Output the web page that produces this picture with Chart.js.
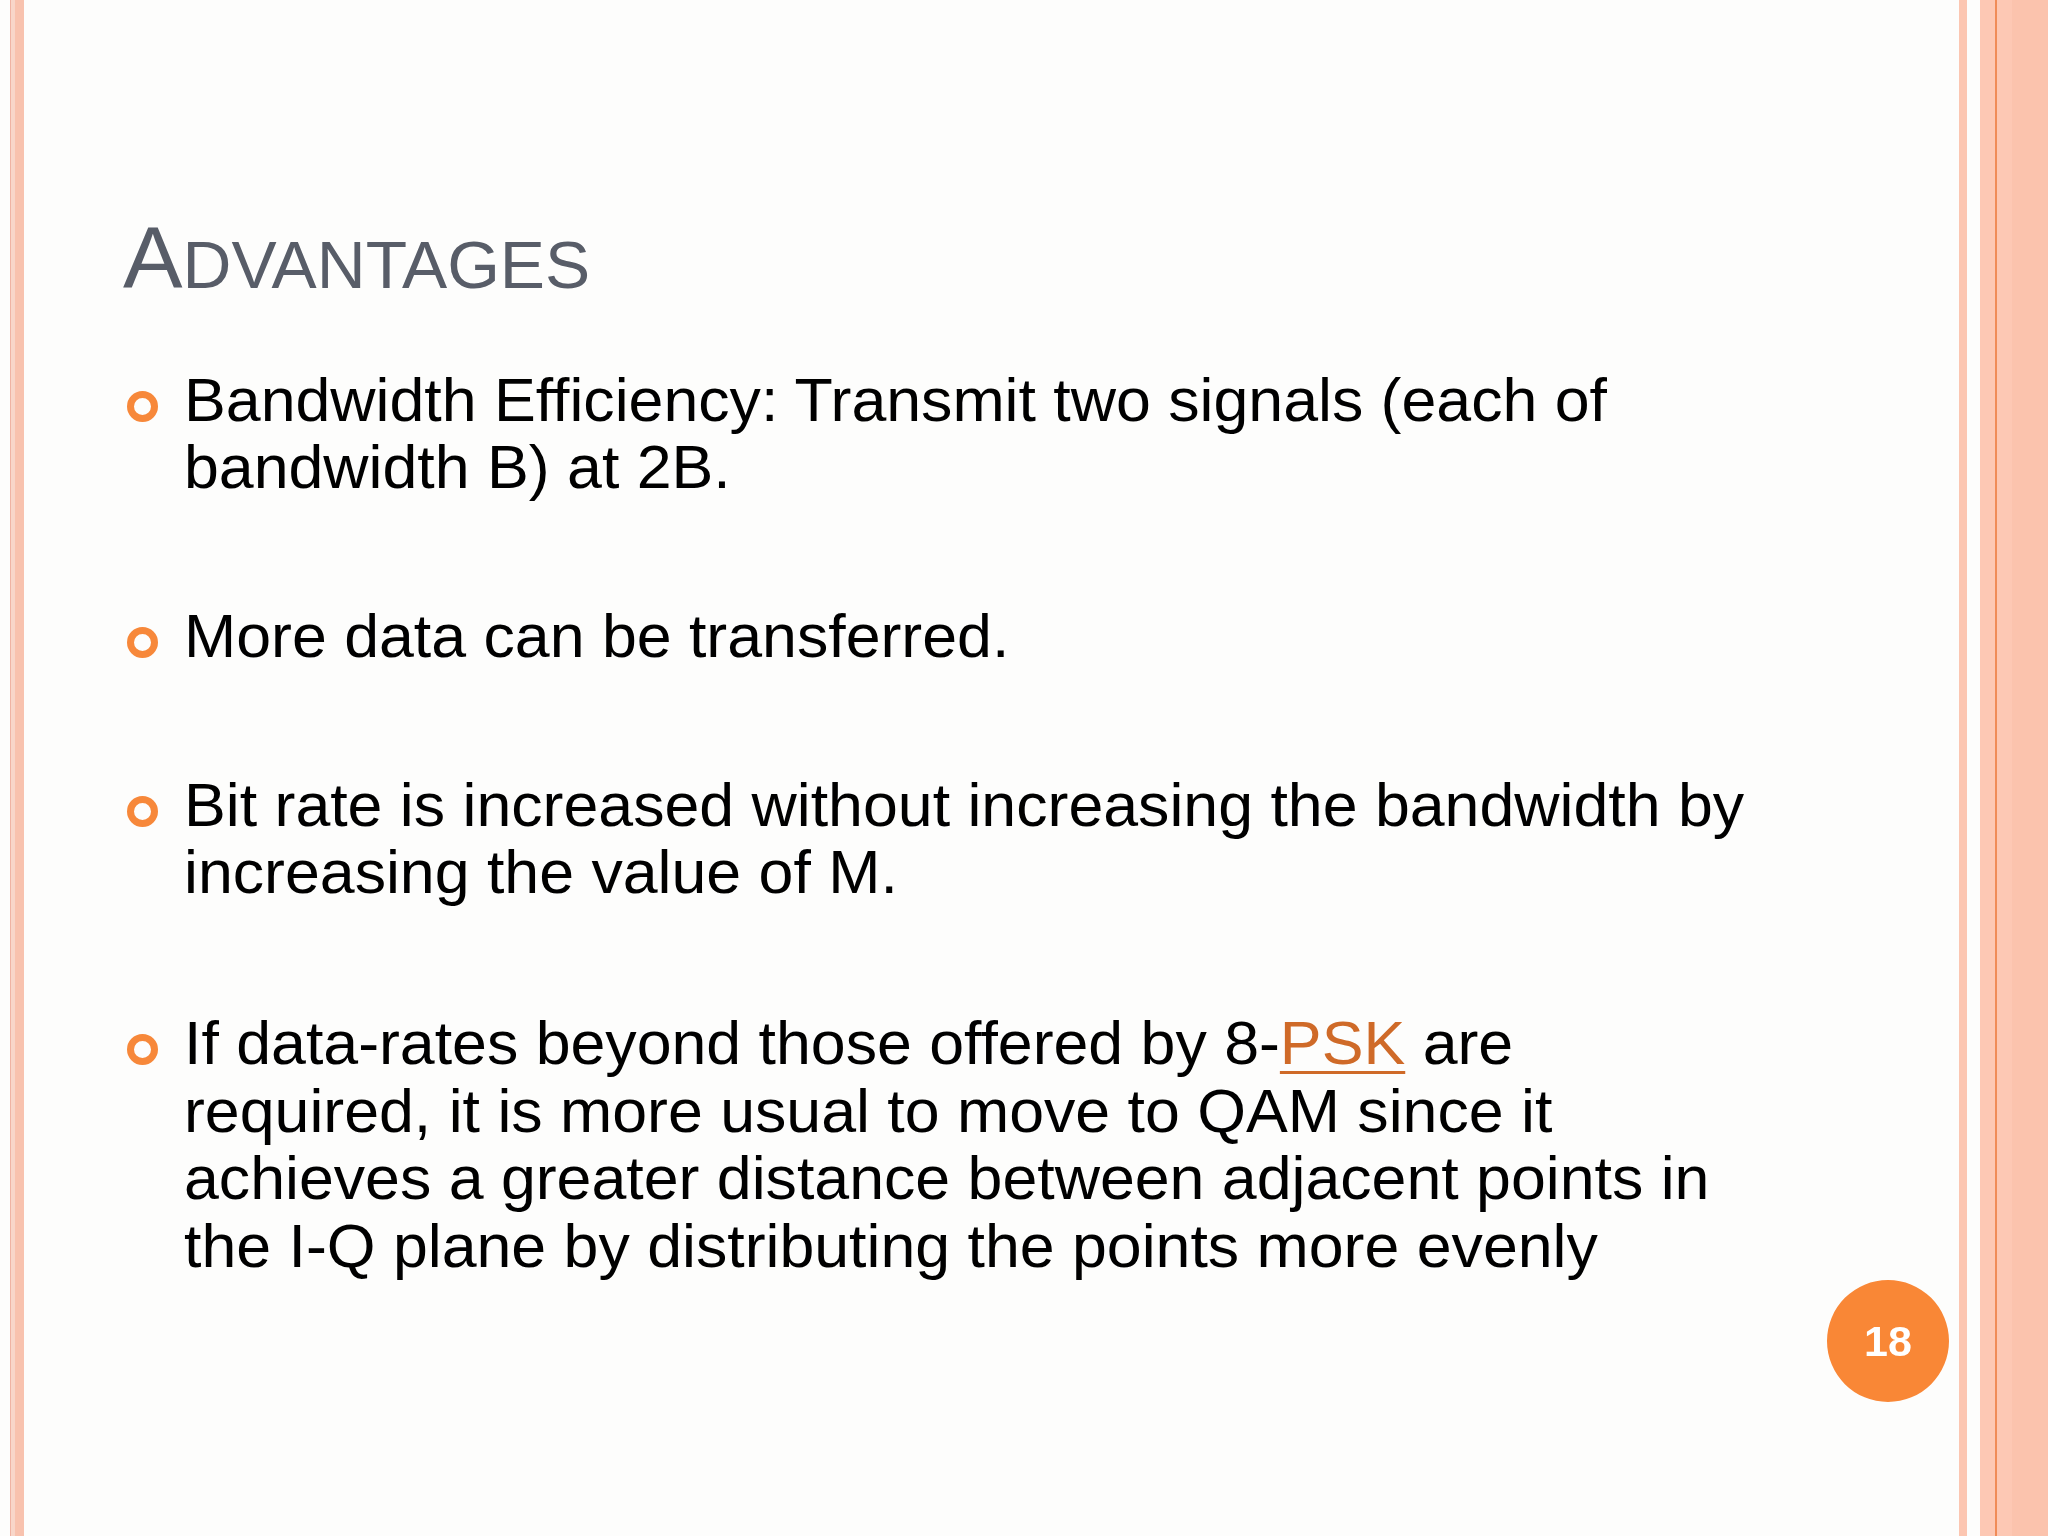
<!DOCTYPE html>
<html>
<head>
<meta charset="utf-8">
<script src="https://cdn.jsdelivr.net/npm/chart.js@4.4.0/dist/chart.umd.min.js"></script>
<style>
  html, body { margin: 0; padding: 0; }
  body { width: 2048px; height: 1536px; position: relative; overflow: hidden; background: #fdfdfc; font-family: "Liberation Sans", Arial, sans-serif; }
  .stripe { position: absolute; top: 0; height: 1536px; }
  .title { position: absolute; left: 123px; top: 214.4px; color: #585d68; font-size: 87px; line-height: 87px; white-space: nowrap; transform: scaleX(1.026); transform-origin: 0 0; }
  .title .sc { font-size: 66px; }
  .block { position: absolute; left: 184px; font-size: 61px; line-height: 67.7px; color: #000; white-space: nowrap; transform: scaleX(1.027); transform-origin: 0 0; }
  .bullet { position: absolute; width: 31px; height: 31px; box-sizing: border-box; border: 7.5px solid #f7883a; border-radius: 50%; }
  .link { color: #cf6a28; text-decoration: underline; text-decoration-thickness: 3px; text-underline-offset: 7px; }
  #badgeBox { position: absolute; left: 1827px; top: 1280px; width: 122px; height: 122px; }
  #badgeText { position: absolute; left: 1827px; top: 1280px; width: 122px; height: 122px; display: flex; align-items: center; justify-content: center; color: #fff; font-weight: bold; font-size: 43px; }
</style>
</head>
<body>
<div class="stripe" style="left:10px;width:1px;background:#efb3a3"></div>
<div class="stripe" style="left:11px;width:4px;background:#f8d6c9"></div>
<div class="stripe" style="left:15px;width:9px;background:#f8c2ae"></div>
<div class="stripe" style="left:1959px;width:8px;background:#fcc6b1"></div>
<div class="stripe" style="left:1980px;width:68px;background:#fdc8b4"></div>
<div class="stripe" style="left:1995px;width:2px;background:#f08c58"></div>
<div class="stripe" style="left:2012px;width:36px;background:#fbc3ad"></div>

<div id="title" class="title"></div>
<div id="content"></div>
<div id="badgeBox"><canvas id="badge"></canvas></div>
<div id="badgeText"></div>

<script>
// ---- content data ----
const titleText = "Advantages";
const bulletLines = [
  ["Bandwidth Efficiency: Transmit two signals (each of", "bandwidth B) at 2B."],
  ["More data can be transferred."],
  ["Bit rate is increased without increasing the bandwidth by", "increasing the value of M."],
  ["If data-rates beyond those offered by 8-[PSK] are", "required, it is more usual to move to QAM since it", "achieves a greater distance between adjacent points in", "the I-Q plane by distributing the points more evenly"]
];
const slideNumber = [18];
const badgeShare = [1];

// ---- layout (not data) ----
const blockBaselines = [421.7, 658, 826.7, 1065];
const baselineOffset = 55.0;

// title in small caps
const t = document.getElementById('title');
const up = titleText.toUpperCase();
t.innerHTML = up[0] + '<span class="sc">' + up.slice(1) + '</span>';

const content = document.getElementById('content');
bulletLines.forEach((lines, i) => {
  const top = blockBaselines[i] - baselineOffset;
  const b = document.createElement('div');
  b.className = 'bullet';
  b.style.left = '127px';
  b.style.top = (blockBaselines[i] - 15.7 - 15.5) + 'px';
  content.appendChild(b);
  const d = document.createElement('div');
  d.className = 'block';
  d.style.top = top + 'px';
  d.innerHTML = lines.map(l => l.replace(/\[(.*?)\]/g, '<span class="link">$1</span>')).join('<br>');
  content.appendChild(d);
});

document.getElementById('badgeText').textContent = String(slideNumber[0]);

new Chart(document.getElementById('badge'), {
  type: 'pie',
  data: {
    labels: ['Slide ' + slideNumber[0]],
    datasets: [{ data: badgeShare, backgroundColor: ['#f98736'], borderWidth: 0 }]
  },
  options: {
    responsive: true,
    maintainAspectRatio: false,
    animation: false,
    layout: { padding: 0 },
    plugins: { legend: { display: false }, tooltip: { enabled: false } }
  }
});
</script>
</body>
</html>
